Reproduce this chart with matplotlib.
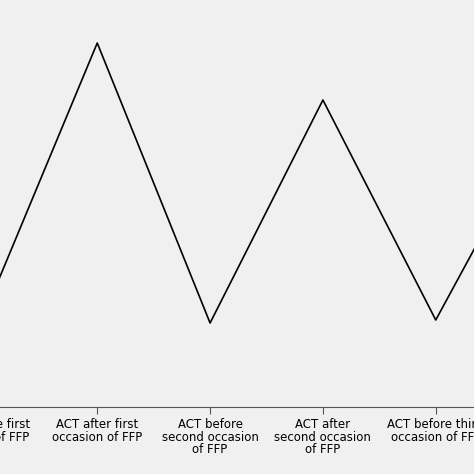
import matplotlib
matplotlib.use("Agg")
import matplotlib.pyplot as plt

categories = ["ACT before first\noccasion of FFP", "ACT after first\noccasion of FFP",
              "ACT before\nsecond occasion\nof FFP", "ACT after\nsecond occasion\nof FFP",
              "ACT before third\noccasion of FFP", "ACT after third\noccasion of FFP"]
values = [93, 364, 84, 307, 87, 295]

fig = plt.figure(figsize=(4.74, 4.74), dpi=100, facecolor="#f0f0f0")
ax = fig.add_axes([-72/474, 67/474, 677/474, 500/474])
ax.set_facecolor("#f0f0f0")
x = list(range(len(categories)))
ax.plot(x, values, color="black", lw=1.2)
ax.set_xlim(-0.5, 5.5)
ax.set_ylim(0, 500)
ax.set_xticks(x)
ax.set_xticklabels(categories, fontsize=8.5, linespacing=0.95)
ax.set_yticks([])
for s in ["top", "right", "left"]:
    ax.spines[s].set_visible(False)
ax.spines["bottom"].set_color("#555555")
ax.tick_params(axis="x", length=5, color="#555555", pad=3)
fig.savefig("out.png", dpi=100, facecolor=fig.get_facecolor())
